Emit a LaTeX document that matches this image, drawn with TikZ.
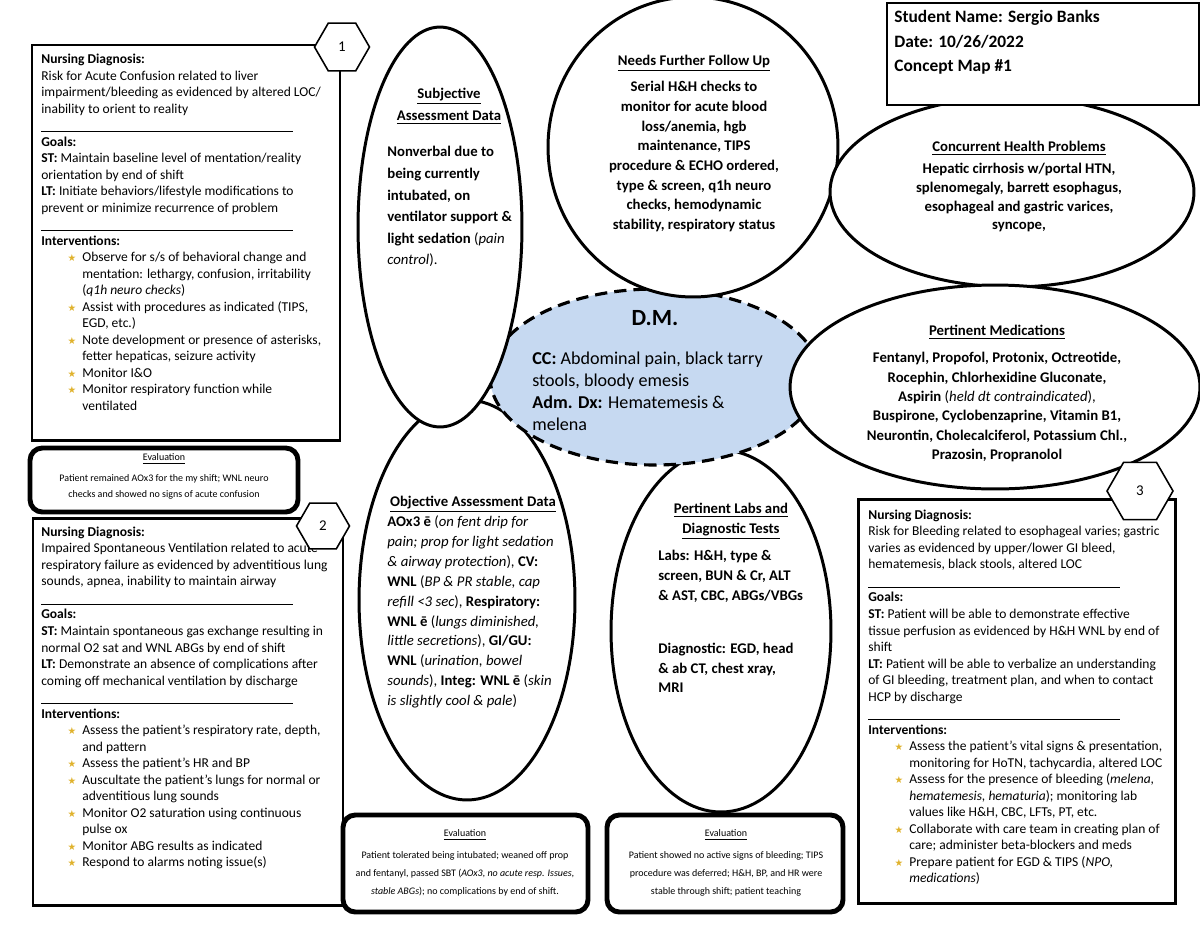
\documentclass[tikz,border=0pt]{standalone}
\usepackage{fontspec}
\setmainfont{Carlito}
\newfontfamily\starfont{DejaVu Sans}
\usepackage{tikz}
\usetikzlibrary{shapes.geometric}
\usepackage{xcolor}
\definecolor{dmblue}{HTML}{C6D9F1}
\definecolor{stargold}{HTML}{E0B22C}

\newcommand{\firstln}{\rule{0pt}{1em}}
\newcommand{\sepline}{\rule[-1.5pt]{5.03cm}{0.6pt}}
\newcommand{\stitem}{\hspace*{0.82cm}\llap{{\starfont\fontsize{5.5}{5.5}\selectfont\textcolor{stargold}{★}}\hspace{0.12cm}}}
\newcommand{\stcont}{\hspace*{0.82cm}}

\begin{document}
\begin{tikzpicture}[x=0.02cm, y=-0.02cm,
  planbox/.style={draw, line width=1.7pt, fill=white},
  evalbox/.style={draw, line width=2.8pt, rounded corners=7pt, fill=white},
  hexnum/.style={regular polygon, regular polygon sides=6, draw, line width=0.9pt, fill=white, inner sep=0pt, font=\fontsize{8.5}{10}\selectfont},
  bubble/.style={ellipse, draw, line width=1.7pt, fill=white, inner sep=0pt},
  dmbubble/.style={ellipse, draw, line width=1.8pt, dash pattern=on 7pt off 4pt, fill=dmblue, inner sep=0pt},
  plantext/.style={anchor=north west, align=left, inner sep=0pt, font=\fontsize{7.7}{9.4}\selectfont},
  evaltext/.style={anchor=north, align=center, inner sep=0pt, font=\fontsize{5.7}{10.2}\selectfont},
  bubblehead/.style={align=center, inner sep=0pt, font=\bfseries\fontsize{8.4}{11.3}\selectfont}]
  \useasboundingbox (0,0) rectangle (1200,927);
  \fill[white] (0,0) rectangle (1200,927);

  % ellipses below the centre
  \node[bubble, minimum width=4.32cm, minimum height=8cm] (obj) at (467,600) {};
  \node[bubble, minimum width=4.4cm, minimum height=7.24cm] (labs) at (721,631) {};
  % centre
  \node[dmbubble, minimum width=6.6cm, minimum height=3.52cm] (dm) at (655,377) {};
  % ellipses above the centre
  \node[bubble, minimum width=3.28cm, minimum height=8cm] (subj) at (440,227) {};
  \node[bubble, minimum width=5.8cm, minimum height=6cm] (needs) at (693,147) {};
  \node[bubble, minimum width=7.28cm, minimum height=3.8cm] (conc) at (1012,192) {};
  \node[bubble, minimum width=8.2cm, minimum height=4.08cm] (meds) at (995,387) {};

  % student box
  \draw[line width=0.6pt, fill=white] (887,3) rectangle (1199,105);
  \node[anchor=north west, align=left, inner sep=0pt, font=\bfseries\fontsize{9.9}{14.1}\selectfont] (student) at (894,4.6)
    {\firstln Student Name: Sergio Banks\\Date: 10/26/2022\\Concept Map \#1};

  % nursing diagnosis boxes
  \draw[planbox] (32,45) rectangle (340,440);
  \draw[planbox] (33,518) rectangle (343,905);
  \draw[planbox] (858,499) rectangle (1175,903);

  \node[plantext] (diag1) at (41,49.6) {\firstln\textbf{Nursing Diagnosis:}\\
    Risk for Acute Confusion related to liver\\
    impairment/bleeding as evidenced by altered LOC/\\
    inability to orient to reality\\
    \sepline\\
    \textbf{Goals:}\\
    \textbf{ST:} Maintain baseline level of mentation/reality\\
    orientation by end of shift\\
    \textbf{LT:} Initiate behaviors/lifestyle modifications to\\
    prevent or minimize recurrence of problem\\
    \sepline\\
    \textbf{Interventions:}\\
    \stitem Observe for s/s of behavioral change and\\
    \stcont mentation: lethargy, confusion, irritability\\
    \stcont (\textit{q1h neuro checks})\\
    \stitem Assist with procedures as indicated (TIPS,\\
    \stcont EGD, etc.)\\
    \stitem Note development or presence of asterisks,\\
    \stcont fetter hepaticas, seizure activity\\
    \stitem Monitor I\&O\\
    \stitem Monitor respiratory function while\\
    \stcont ventilated};

  \node[plantext] (diag2) at (41,522.5) {\firstln\textbf{Nursing Diagnosis:}\\
    Impaired Spontaneous Ventilation related to acute\\
    respiratory failure as evidenced by adventitious lung\\
    sounds, apnea, inability to maintain airway\\
    \sepline\\
    \textbf{Goals:}\\
    \textbf{ST:} Maintain spontaneous gas exchange resulting in\\
    normal O2 sat and WNL ABGs by end of shift\\
    \textbf{LT:} Demonstrate an absence of complications after\\
    coming off mechanical ventilation by discharge\\
    \sepline\\
    \textbf{Interventions:}\\
    \stitem Assess the patient’s respiratory rate, depth,\\
    \stcont and pattern\\
    \stitem Assess the patient’s HR and BP\\
    \stitem Auscultate the patient’s lungs for normal or\\
    \stcont adventitious lung sounds\\
    \stitem Monitor O2 saturation using continuous\\
    \stcont pulse ox\\
    \stitem Monitor ABG results as indicated\\
    \stitem Respond to alarms noting issue(s)};

  \node[plantext] (diag3) at (868,505.5) {\firstln\textbf{Nursing Diagnosis:}\\
    Risk for Bleeding related to esophageal varies; gastric\\
    varies as evidenced by upper/lower GI bleed,\\
    hematemesis, black stools, altered LOC\\
    \sepline\\
    \textbf{Goals:}\\
    \textbf{ST:} Patient will be able to demonstrate effective\\
    tissue perfusion as evidenced by H\&H WNL by end of\\
    shift\\
    \textbf{LT:} Patient will be able to verbalize an understanding\\
    of GI bleeding, treatment plan, and when to contact\\
    HCP by discharge\\
    \sepline\\
    \textbf{Interventions:}\\
    \stitem Assess the patient’s vital signs \& presentation,\\
    \stcont monitoring for HoTN, tachycardia, altered LOC\\
    \stitem Assess for the presence of bleeding (\textit{melena,}\\
    \stcont \textit{hematemesis, hematuria}); monitoring lab\\
    \stcont values like H\&H, CBC, LFTs, PT, etc.\\
    \stitem Collaborate with care team in creating plan of\\
    \stcont care; administer beta-blockers and meds\\
    \stitem Prepare patient for EGD \& TIPS (\textit{NPO,}\\
    \stcont \textit{medications})};

  % numbered hexagons
  \node[hexnum, minimum size=1.1cm] (hexA) at (342,47) {1};
  \node[hexnum, minimum size=1.06cm] (hexB) at (323,526) {2};
  \node[hexnum, minimum size=1.32cm] (hexC) at (1140,491) {3};

  % evaluations
  \draw[evalbox] (30,448) rectangle (298,512);
  \draw[evalbox] (343,815) rectangle (588,912);
  \draw[evalbox] (607,815) rectangle (843,912);
  \node[evaltext, font=\fontsize{5.7}{9}\selectfont] (eval1) at (164,450.3) {\firstln\underline{Evaluation}\\[2.8pt]
    Patient remained AOx3 for the my shift; WNL neuro\\
    checks and showed no signs of acute confusion};
  \node[evaltext] (eval2) at (465,826.3) {\firstln\underline{Evaluation}\\[2.3pt]
    Patient tolerated being intubated; weaned off prop\\
    and fentanyl, passed SBT (\textit{AOx3, no acute resp. Issues,}\\
    \textit{stable ABGs}); no complications by end of shift.};
  \node[evaltext] (eval3) at (726,826.3) {\firstln\underline{Evaluation}\\[2.3pt]
    Patient showed no active signs of bleeding; TIPS\\
    procedure was deferred; H\&H, BP, and HR were\\
    stable through shift; patient teaching};

  % subjective
  \node[bubblehead, anchor=north, font=\bfseries\fontsize{8.4}{12.4}\selectfont] (subjhd) at (449,83.7)
    {\firstln\underline{Subjective}\\\underline{Assessment Data}};
  \node[anchor=north west, align=left, inner sep=0pt, font=\bfseries\fontsize{8.4}{12.3}\selectfont] (subjtx) at (387,141.7)
    {\firstln Nonverbal due to\\being currently\\intubated, on\\ventilator support \&\\
     light sedation {\mdseries(\textit{pain}}\\{\mdseries\textit{control}).}};

  % needs further follow up
  \node[bubblehead, anchor=north, font=\bfseries\fontsize{8.4}{11.2}\selectfont] (needstx) at (694,50.7)
    {\firstln\underline{Needs Further Follow Up}\\[3.6pt]
     Serial H\&H checks to\\monitor for acute blood\\loss/anemia, hgb\\maintenance, TIPS\\
     procedure \& ECHO ordered,\\type \& screen, q1h neuro\\checks, hemodynamic\\stability, respiratory status};

  % concurrent health problems
  \node[bubblehead, anchor=north, font=\bfseries\fontsize{8.4}{10.6}\selectfont] (conctx) at (1019,136.7)
    {\firstln\underline{Concurrent Health Problems}\\[2pt]
     Hepatic cirrhosis w/portal HTN,\\splenomegaly, barrett esophagus,\\esophageal and gastric varices,\\syncope,};

  % pertinent medications
  \node[bubblehead, anchor=north, font=\bfseries\fontsize{8.4}{11}\selectfont] (medstx) at (997,320.7)
    {\firstln\underline{Pertinent Medications}\\[4.3pt]
     Fentanyl, Propofol, Protonix, Octreotide,\\Rocephin, Chlorhexidine Gluconate,\\
     Aspirin {\mdseries(\textit{held dt contraindicated}),}\\Buspirone, Cyclobenzaprine, Vitamin B1,\\
     Neurontin, Cholecalciferol, Potassium Chl.,\\Prazosin, Propranolol};

  % D.M.
  \node[inner sep=0pt, font=\bfseries\fontsize{13.2}{15}\selectfont] (dmtitle) at (655,318) {D.M.};
  \node[anchor=north west, align=left, inner sep=0pt, font=\fontsize{10.3}{12.6}\selectfont] (dmtx) at (532,346)
    {\firstln\textbf{CC:} Abdominal pain, black tarry\\stools, bloody emesis\\
     \textbf{Adm. Dx:} Hematemesis \&\\melena};

  % objective
  \node[bubblehead, anchor=base] (objhd) at (473,506.5) {\underline{Objective Assessment Data}};
  \node[anchor=north west, align=left, inner sep=0pt, font=\fontsize{8.4}{11.3}\selectfont] (objtx) at (387,511.7)
    {\firstln\textbf{AOx3 ē} (\textit{on fent drip for}\\
     \textit{pain; prop for light sedation}\\
     \textit{\& airway protection}), \textbf{CV:}\\
     \textbf{WNL} (\textit{BP \& PR stable, cap}\\
     \textit{refill <3 sec}), \textbf{Respiratory:}\\
     \textbf{WNL ē} (\textit{lungs diminished,}\\
     \textit{little secretions}), \textbf{GI/GU:}\\
     \textbf{WNL} (\textit{urination, bowel}\\
     \textit{sounds}), \textbf{Integ: WNL ē} (\textit{skin}\\
     \textit{is slightly cool \& pale})};

  % labs
  \node[bubblehead, anchor=north] (labshd) at (731,498.7)
    {\firstln\underline{Pertinent Labs and}\\\underline{Diagnostic Tests}};
  \node[anchor=north west, align=left, inner sep=0pt, font=\bfseries\fontsize{8.4}{11.3}\selectfont] (labstx) at (658,545.7)
    {\firstln Labs: H\&H, type \&\\screen, BUN \& Cr, ALT\\\& AST, CBC, ABGs/VBGs\\[18.7pt]
     Diagnostic: EGD, head\\\& ab CT, chest xray,\\MRI};
\end{tikzpicture}
\end{document}
